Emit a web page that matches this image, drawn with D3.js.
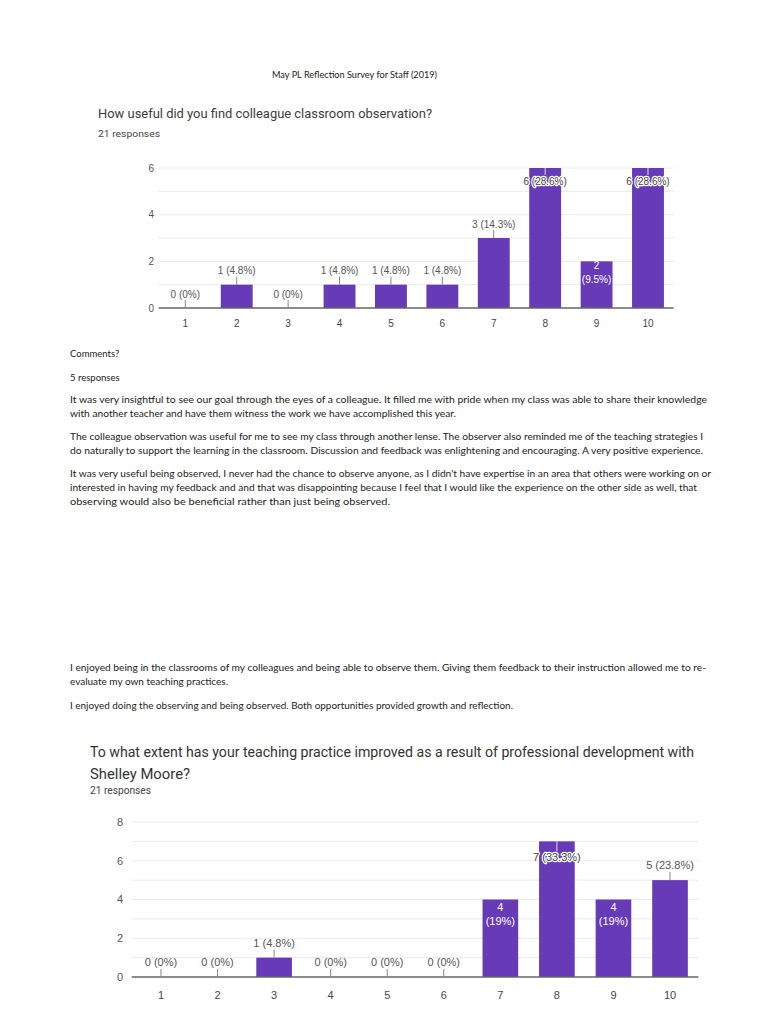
<!DOCTYPE html>
<html><head><meta charset="utf-8">
<script src="https://cdn.jsdelivr.net/npm/d3@7"></script>
<style>body{margin:0;background:#fff}svg{display:block}</style>
</head><body>
<script>
// ---------- data ----------
const categories = ["1","2","3","4","5","6","7","8","9","10"];
const usefulValues   = [0,1,0,1,1,1,3,6,2,6];
const improvedValues = [0,0,1,0,0,0,4,7,4,5];
const usefulTicks   = [0,2,4,6];
const improvedTicks = [0,2,4,6,8];
const totalResponses = 21;
const usefulLabelMode   = ["above","above","above","above","above","above","above","top","inside","top"];
const improvedLabelMode = ["above","above","above","above","above","above","inside","top","inside","above"];

const pageTitle = "May PL Reflection Survey for Staff (2019)";
const q1Title = "How useful did you find colleague classroom observation?";
const q1Sub = "21 responses";
const commentsHead = "Comments?";
const commentsSub = "5 responses";
const commentLines = [
  "It was very insightful to see our goal through the eyes of a colleague. It filled me with pride when my class was able to share their knowledge",
  "with another teacher and have them witness the work we have accomplished this year.",
  "The colleague observation was useful for me to see my class through another lense. The observer also reminded me of the teaching strategies I",
  "do naturally to support the learning in the classroom. Discussion and feedback was enlightening and encouraging. A very positive experience.",
  "It was very useful being observed, I never had the chance to observe anyone, as I didn't have expertise in an area that others were working on or",
  "interested in having my feedback and and that was disappointing because I feel that I would like the experience on the other side as well, that",
  "observing would also be beneficial rather than just being observed.",
  "I enjoyed being in the classrooms of my colleagues and being able to observe them. Giving them feedback to their instruction allowed me to re-",
  "evaluate my own teaching practices.",
  "I enjoyed doing the observing and being observed. Both opportunities provided growth and reflection."
];
const q2TitleLines = ["To what extent has your teaching practice improved as a result of professional development with","Shelley Moore?"];
const q2Sub = "21 responses";

// ---------- layout ----------
const W = 768, H = 1024;
const svg = d3.select("body").append("svg").attr("width", W).attr("height", H);
const PURPLE = "#673ab7";
const bodyFont = "Lato, 'Open Sans', sans-serif";
const chartFont = "'Liberation Sans', Arial, sans-serif";
const qFont = "Roboto, 'Open Sans', sans-serif";

function txt(s, x, y, size, opts = {}) {
  const t = svg.append("text").attr("x", x).attr("y", y).text(s)
    .attr("font-family", opts.font || bodyFont).attr("font-size", size)
    .attr("fill", opts.fill || "#222");
  if (opts.len) t.attr("textLength", opts.len).attr("lengthAdjust", "spacingAndGlyphs");
  if (opts.anchor) t.attr("text-anchor", opts.anchor);
  return t;
}

txt(pageTitle, 272, 78, 9.5, {len: 165});
txt(q1Title, 98, 117.5, 13, {font: qFont, fill: "#3c3c3c", len: 334});
txt(q1Sub, 98, 136.5, 9.5, {font: qFont, fill: "#444", len: 62});

txt(commentsHead, 70, 357.3, 9.5);
txt(commentsSub, 70, 381.3, 9.5);
const lineY = [403.3, 417.3, 440.3, 454.3, 477.3, 491.3, 505.3, 671.3, 685.3, 709.3];
const lineLen = [637, 386, 633, 633, 641, 627, 320, 636, 158, 443];
commentLines.forEach((s, i) => txt(s, 70, lineY[i], 9.5, {len: lineLen[i]}));

txt(q2TitleLines[0], 90, 756.5, 15.5, {font: qFont, fill: "#333", len: 604});
txt(q2TitleLines[1], 90, 778.5, 15.5, {font: qFont, fill: "#333", len: 100});
txt(q2Sub, 90, 793.8, 10.5, {font: qFont, fill: "#444", len: 61});

function pct(v) {
  let s = (v / totalResponses * 100).toFixed(1);
  if (s.endsWith(".0")) s = s.slice(0, -2);
  return s + "%";
}

function barChart(cfg) {
  const g = svg.append("g");
  const x = d3.scaleBand().domain(categories).range([cfg.x0, cfg.x1])
    .paddingInner(cfg.pad).paddingOuter(cfg.pad / 2);
  const y = d3.scaleLinear().domain([0, cfg.max]).range([cfg.base, cfg.top]);
  g.selectAll("line.grid").data(d3.range(1, cfg.max + 1)).join("line")
    .attr("x1", cfg.x0 - 1).attr("x2", cfg.x1).attr("y1", d => y(d)).attr("y2", d => y(d))
    .attr("stroke", "#ebebeb").attr("stroke-width", 1);
  g.selectAll("text.yl").data(cfg.ticks).join("text")
    .attr("x", cfg.yLabelX).attr("y", d => y(d) + cfg.fs * 0.35)
    .attr("text-anchor", "end").attr("font-family", chartFont).attr("font-size", cfg.fs)
    .attr("fill", "#555").text(d => d);
  g.selectAll("rect.bar").data(cfg.values).join("rect")
    .attr("x", (d, i) => x(categories[i])).attr("width", x.bandwidth())
    .attr("y", d => y(d)).attr("height", d => y(0) - y(d)).attr("fill", PURPLE);
  g.append("line").attr("x1", cfg.x0 - 1).attr("x2", cfg.x1).attr("y1", y(0)).attr("y2", y(0))
    .attr("stroke", "#666").attr("stroke-width", 1.6);
  g.selectAll("text.xl").data(categories).join("text")
    .attr("x", d => x(d) + x.bandwidth() / 2).attr("y", cfg.xLabelY)
    .attr("text-anchor", "middle").attr("font-family", chartFont).attr("font-size", cfg.fs)
    .attr("fill", "#444").text(d => d);
  cfg.values.forEach((v, i) => {
    const cx = x(categories[i]) + x.bandwidth() / 2;
    const top = y(v);
    const mode = cfg.modes[i];
    const label = v + " (" + pct(v) + ")";
    if (mode === "above") {
      g.append("line").attr("x1", cx).attr("x2", cx).attr("y1", top).attr("y2", top - cfg.lead)
        .attr("stroke", "#888").attr("stroke-width", 1);
      g.append("text").attr("x", cx).attr("y", top - cfg.aboveOff).attr("text-anchor", "middle")
        .attr("font-family", chartFont).attr("font-size", cfg.fs).attr("fill", "#555").text(label);
    } else if (mode === "top") {
      g.append("line").attr("x1", cx).attr("x2", cx).attr("y1", top).attr("y2", top + cfg.topLead)
        .attr("stroke", "#ddd").attr("stroke-width", 1);
      g.append("text").attr("x", cx).attr("y", top + cfg.topOff).attr("text-anchor", "middle")
        .attr("font-family", chartFont).attr("font-size", cfg.fs).attr("fill", "#444")
        .attr("stroke", "#fff").attr("stroke-width", 2.4).attr("stroke-linejoin", "round")
        .attr("paint-order", "stroke").text(label);
    } else {
      g.append("text").attr("x", cx).attr("y", top + cfg.in1).attr("text-anchor", "middle")
        .attr("font-family", chartFont).attr("font-size", cfg.fs).attr("fill", "#fff").text(v);
      g.append("text").attr("x", cx).attr("y", top + cfg.in2).attr("text-anchor", "middle")
        .attr("font-family", chartFont).attr("font-size", cfg.fs).attr("fill", "#fff").text("(" + pct(v) + ")");
    }
  });
}

barChart({values: usefulValues, ticks: usefulTicks, modes: usefulLabelMode, max: 6,
  x0: 159.6, x1: 673.7, top: 168, base: 308, pad: 0.38, fs: 10,
  yLabelX: 154, xLabelY: 327, lead: 8, aboveOff: 10.5, topLead: 7, topOff: 17, in1: 7.8, in2: 21.5});

barChart({values: improvedValues, ticks: improvedTicks, modes: improvedLabelMode, max: 8,
  x0: 132.7, x1: 698.3, top: 822, base: 977, pad: 0.37, fs: 11,
  yLabelX: 123, xLabelY: 999, lead: 8, aboveOff: 11, topLead: 10, topOff: 20, in1: 11.5, in2: 25.5});
</script>
</body></html>
